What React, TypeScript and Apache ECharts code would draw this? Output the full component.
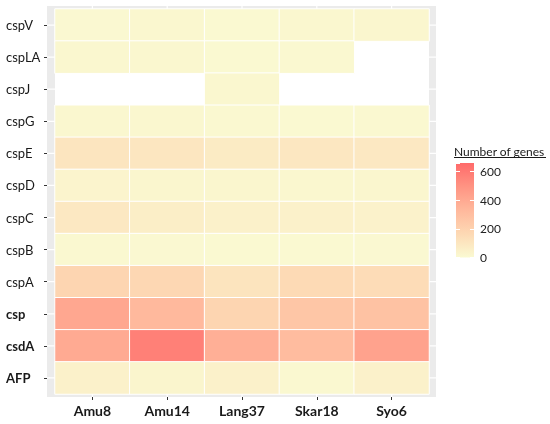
import React, { useEffect, useRef } from 'react';
import * as echarts from 'echarts';

const STRAINS = ['Amu8', 'Amu14', 'Lang37', 'Skar18', 'Syo6'];
const GENES = ['cspV', 'cspLA', 'cspJ', 'cspG', 'cspE', 'cspD', 'cspC', 'cspB', 'cspA', 'csp', 'csdA', 'AFP'];
const BOLD_GENES = ['csp', 'csdA', 'AFP'];

// values per strain, in GENES order (null = no gene)
const amu8 = [8, 15, null, 15, 105, 30, 90, 10, 185, 410, 395, 45];
const amu14 = [15, 15, null, 15, 100, 20, 60, 8, 175, 325, 575, 25];
const lang37 = [5, 5, 15, 10, 75, 20, 45, 5, 110, 185, 370, 45];
const skar18 = [14, 12, null, 5, 95, 15, 45, 5, 160, 260, 310, 10];
const syo6 = [20, null, null, 12, 90, 20, 40, 8, 150, 280, 430, 45];
const STRAIN_VALUES = [amu8, amu14, lang37, skar18, syo6];

const LEGEND_TITLE = 'Number of genes';
const SCALE_MIN = 0;
const SCALE_MAX = 660;
const SCALE_STEP = 200;
const COLOR_STOPS = ['#FAFAD2', '#FDD9B4', '#FFB89C', '#FF9483', '#FF6A6A'];

const FONT = 'Lato';

export default function App() {
  const ref = useRef<HTMLDivElement>(null);
  useEffect(() => {
    const chart = echarts.init(ref.current!, null, { renderer: 'svg' });

    const data: any[] = [];
    STRAIN_VALUES.forEach((arr, xi) => {
      arr.forEach((v, yi) => {
        if (v !== null) data.push([xi, yi, v]);
      });
    });

    // layout
    const gL = 55, gT = 9, gW = 374, gH = 385;
    const pL = 47, pT = 6, pR = 436, pB = 397;
    const colW = gW / STRAINS.length;
    const rowH = gH / GENES.length;

    const graphics: any[] = [
      { type: 'rect', z: 0, shape: { x: pL, y: pT, width: pR - pL, height: pB - pT }, style: { fill: '#EBEBEB' } },
    ];
    STRAINS.forEach((_, i) => {
      const x = gL + colW * (i + 0.5);
      graphics.push({ type: 'line', z: 0, shape: { x1: x, y1: pT, x2: x, y2: pB }, style: { stroke: '#fff', lineWidth: 1.2 } });
    });
    GENES.forEach((_, i) => {
      const y = gT + rowH * (i + 0.5);
      graphics.push({ type: 'line', z: 0, shape: { x1: pL, y1: y, x2: pR, y2: y }, style: { stroke: '#fff', lineWidth: 1.2 } });
    });
    graphics.push({ type: 'rect', z: 0, shape: { x: gL, y: gT, width: gW, height: gH }, style: { fill: '#fff' } });
    graphics.push({
      type: 'text', z: 5, x: 454, y: 151,
      style: { text: LEGEND_TITLE, fontFamily: FONT, fontSize: 12, fill: '#1a1a1a', verticalAlign: 'middle', align: 'left' },
    });
    graphics.push({ type: 'line', z: 5, shape: { x1: 454, y1: 157.5, x2: 546, y2: 157.5 }, style: { stroke: '#1a1a1a', lineWidth: 1 } });

    const gradient = new echarts.graphic.LinearGradient(
      0, 1, 0, 0,
      COLOR_STOPS.map((c, i) => ({ offset: i / (COLOR_STOPS.length - 1), color: c }))
    );

    const option: any = {
      animation: false,
      textStyle: { fontFamily: FONT },
      graphic: graphics,
      grid: [
        { left: gL, top: gT, width: gW, height: gH },
        { left: 456, top: 163, width: 18, height: 94.5 },
      ],
      visualMap: {
        type: 'continuous',
        show: false,
        min: SCALE_MIN,
        max: SCALE_MAX,
        seriesIndex: 0,
        inRange: { color: COLOR_STOPS },
      },
      xAxis: [
        {
          type: 'category', gridIndex: 0, data: STRAINS, position: 'bottom', offset: 3,
          axisLine: { show: false },
          axisTick: { show: true, length: 3, alignWithLabel: true, lineStyle: { color: '#333' } },
          axisLabel: { fontFamily: FONT, fontWeight: 'bold', fontSize: 14, color: '#1a1a1a', margin: 6 },
          splitLine: { show: false },
        },
        { type: 'category', gridIndex: 1, data: [''], show: false },
      ],
      yAxis: [
        {
          type: 'category', gridIndex: 0, data: GENES, inverse: true, offset: 8,
          axisLine: { show: false },
          axisTick: { show: true, length: 3, alignWithLabel: true, lineStyle: { color: '#333' } },
          axisLabel: {
            align: 'left', margin: 41, fontFamily: FONT, fontSize: 13, color: '#1a1a1a',
            formatter: (v: string) => (BOLD_GENES.includes(v) ? `{b|${v}}` : `{n|${v}}`),
            rich: {
              b: { fontFamily: FONT, fontSize: 13, fontWeight: 'bold', color: '#1a1a1a' },
              n: { fontFamily: FONT, fontSize: 13, color: '#1a1a1a' },
            },
          },
          splitLine: { show: false },
        },
        {
          type: 'value', gridIndex: 1, position: 'right', min: SCALE_MIN, max: SCALE_MAX, interval: SCALE_STEP, z: 10,
          axisLine: { show: false },
          axisTick: { show: true, inside: true, length: 4, lineStyle: { color: '#fff', width: 1 } },
          axisLabel: { showMaxLabel: false, margin: 6, fontFamily: FONT, fontSize: 12, color: '#222' },
          splitLine: { show: false },
        },
        {
          type: 'value', gridIndex: 1, position: 'left', min: SCALE_MIN, max: SCALE_MAX, interval: SCALE_STEP, z: 10,
          axisLine: { show: false },
          axisTick: { show: true, inside: true, length: 4, lineStyle: { color: '#fff', width: 1 } },
          axisLabel: { show: false },
          splitLine: { show: false },
        },
      ],
      series: [
        {
          type: 'heatmap', xAxisIndex: 0, yAxisIndex: 0, data, z: 2,
          itemStyle: { borderColor: '#fff', borderWidth: 1 },
          emphasis: { disabled: true },
        },
        {
          type: 'bar', xAxisIndex: 1, yAxisIndex: 1, data: [SCALE_MAX], barWidth: '100%', z: 2,
          itemStyle: { color: gradient },
          silent: true,
        },
      ],
    };
    chart.setOption(option);
    return () => chart.dispose();
  }, []);
  return <div ref={ref} style={{ position: 'fixed', left: 0, top: 0, width: 550, height: 424 }} />;
}
